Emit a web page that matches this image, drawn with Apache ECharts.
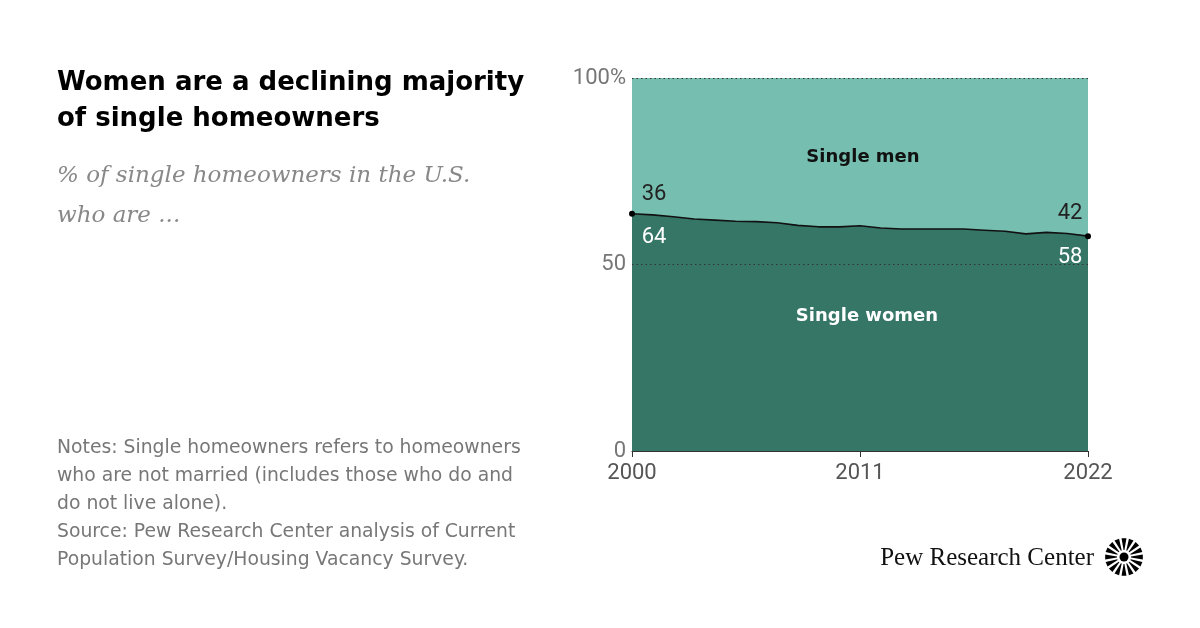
<!DOCTYPE html>
<html>
<head>
<meta charset="utf-8">
<script src="https://cdn.jsdelivr.net/npm/echarts@6/dist/echarts.min.js"></script>
<style>
  html, body { margin: 0; padding: 0; background: #fff; }
  #chart { width: 1200px; height: 628px; }
</style>
</head>
<body>
<div id="chart"></div>
<script>
// data
const years = [
  "2000", "2001", "2002", "2003", "2004", "2005", "2006", "2007", "2008", "2009", "2010", "2011",
  "2012", "2013", "2014", "2015", "2016", "2017", "2018", "2019", "2020", "2021", "2022",
];
const womenShare = [
  63.6, 63.3, 62.8, 62.2, 61.9, 61.6, 61.5, 61.2, 60.5, 60.1, 60.1, 60.4,
  59.8, 59.5, 59.5, 59.5, 59.5, 59.2, 58.9, 58.2, 58.6, 58.3, 57.6,
];
const menShare = womenShare.map(v => +(100 - v).toFixed(1));
const yTicks = [0, 50, 100];

const darkGreen = "#367667";
const lightGreen = "#76bfb0";
const numFont = "Roboto, 'Liberation Sans', sans-serif";
const boldFont = "'DejaVu Sans', sans-serif";
const last = years.length - 1;

const chart = echarts.init(document.getElementById("chart"));

// women labels sit under the boundary line
const womenLabelData = womenShare.map((v, i) => {
  if (i === 0) {
    return { value: v, label: { show: true, offset: [22, 24] } };
  }
  if (i === last) {
    return {
      value: v,
      label: {
        show: true, offset: [-37, 21],
        backgroundColor: darkGreen, padding: [0, 2, 0, 40],
      },
    };
  }
  return v;
});

// men labels sit above the boundary line
const lineData = womenShare.map((v, i) => {
  if (i === 0) return { value: v, label: { show: true, offset: [22, -19] } };
  if (i === last) return { value: v, label: { show: true, offset: [-18, -23] } };
  return v;
});

// sunburst logo: wedge rays round a dot
const burst = [{ type: "circle", shape: { cx: 0, cy: 0, r: 4.5 }, style: { fill: "#000" } }];
for (let k = 0; k < 16; k++) {
  const a = (k / 16) * Math.PI * 2;
  const w0 = 0.06, w1 = 0.13;
  const p = (r, d) => [Math.cos(a + d) * r, Math.sin(a + d) * r];
  burst.push({
    type: "polygon",
    shape: { points: [p(7, -w0), p(19, -w1), p(19, w1), p(7, w0)] },
    style: { fill: "#000" },
  });
}

const option = {
  animation: false,
  textStyle: { fontFamily: numFont },
  grid: { left: 632, right: 112, top: 78, bottom: 177 },
  xAxis: {
    type: "category",
    data: years,
    boundaryGap: false,
    axisLine: { lineStyle: { color: "#333", width: 1 } },
    axisTick: { show: true, interval: 10, length: 6, lineStyle: { color: "#333" } },
    axisLabel: { interval: 10, color: "#555", fontSize: 22, margin: 11 },
  },
  yAxis: {
    type: "value",
    min: yTicks[0],
    max: yTicks[yTicks.length - 1],
    interval: 50,
    axisLine: { show: false },
    axisTick: { show: false },
    splitLine: { show: false },
    axisLabel: {
      color: "#777",
      fontSize: 22,
      margin: 6,
      formatter: v => (v === 100 ? "100%" : String(v)),
    },
  },
  series: [
    {
      name: "Single women",
      type: "line",
      stack: "total",
      data: womenShare,
      symbol: "none",
      lineStyle: { width: 0 },
      areaStyle: { color: darkGreen, opacity: 1 },
      z: 2,
    },
    {
      name: "Single men",
      type: "line",
      stack: "total",
      data: menShare,
      symbol: "none",
      lineStyle: { width: 0 },
      areaStyle: { color: lightGreen, opacity: 1 },
      markLine: {
        silent: true,
        symbol: "none",
        label: { show: false },
        lineStyle: { color: "#333", type: [1.5, 3], width: 1.2 },
        data: [{ yAxis: 50 }, { yAxis: 100 }],
      },
      z: 2,
    },
    {
      name: "boundary",
      type: "line",
      data: lineData,
      symbol: "circle",
      symbolSize: (v, p) => (p.dataIndex === 0 || p.dataIndex === last ? 6 : 0),
      itemStyle: { color: "#000" },
      lineStyle: { color: "#111", width: 1.6 },
      label: {
        show: false, position: "inside", color: "#222", fontSize: 22,
        formatter: p => String(Math.round(100 - p.value)),
      },
      z: 3,
    },
    {
      name: "women labels",
      type: "line",
      data: womenLabelData,
      symbol: "circle",
      symbolSize: 0,
      lineStyle: { width: 0, opacity: 0 },
      label: {
        show: false, position: "inside", color: "#fff", fontSize: 22,
        formatter: p => String(Math.round(p.value)),
      },
      z: 4,
    },
  ],
  graphic: [
    {
      type: "text", left: 57, top: 65,
      style: {
        text: "Women are a declining majority\nof single homeowners",
        font: "bold 26px " + boldFont,
        fill: "#000", lineHeight: 36,
      },
    },
    {
      type: "text", left: 57, top: 156,
      style: {
        text: "% of single homeowners in the U.S.\nwho are ...",
        font: "italic 23px 'DejaVu Serif', serif",
        fill: "#888", lineHeight: 40,
      },
    },
    {
      type: "text", left: 57, top: 434,
      style: {
        text: "Notes: Single homeowners refers to homeowners\nwho are not married (includes those who do and\ndo not live alone).\nSource: Pew Research Center analysis of Current\nPopulation Survey/Housing Vacancy Survey.",
        font: "18.8px 'DejaVu Sans', sans-serif",
        fill: "#777", lineHeight: 28,
      },
    },
    {
      type: "text", x: 863, y: 157,
      style: {
        text: "Single men", align: "center", verticalAlign: "middle",
        font: "bold 18px " + boldFont, fill: "#111",
      },
      z: 10,
    },
    {
      type: "text", x: 867, y: 316,
      style: {
        text: "Single women", align: "center", verticalAlign: "middle",
        font: "bold 18px " + boldFont, fill: "#fff",
      },
      z: 10,
    },
    {
      type: "text", x: 1094, y: 558,
      style: {
        text: "Pew Research Center", align: "right", verticalAlign: "middle",
        font: "25px 'Liberation Serif', serif", fill: "#111",
      },
    },
    { type: "group", x: 1124, y: 557, children: burst },
  ],
};

chart.setOption(option);
</script>
</body>
</html>
